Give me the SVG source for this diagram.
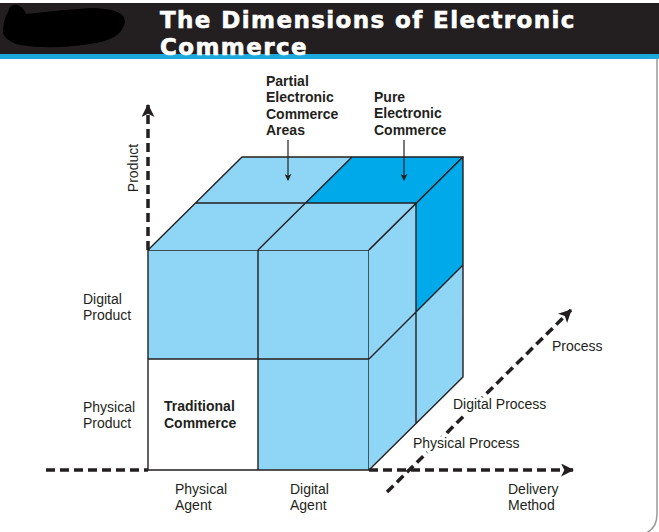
<svg xmlns="http://www.w3.org/2000/svg" width="659" height="532" viewBox="0 0 659 532">
<style>
.lbl{font-family:"Liberation Sans",Arial,sans-serif;font-size:14px;fill:#231f20}
.bold{font-weight:bold}
.title{font-family:"DejaVu Sans","Liberation Sans",Arial,sans-serif;font-size:23px;font-weight:bold;fill:#fff;stroke:#fff;stroke-width:0.6;letter-spacing:1.4px}
.lt{fill:#8fd6f6}
.dk{fill:#00aaea}
.edge{fill:none;stroke:#231f20;stroke-width:1.4;stroke-linejoin:round}
.dash{fill:none;stroke:#231f20;stroke-width:3.5;stroke-dasharray:9 5}
.thin{fill:none;stroke:#231f20;stroke-width:1.2}
.halo{stroke:#fff;stroke-width:7;paint-order:stroke;stroke-linejoin:round}
</style>
<defs>
<marker id="big" viewBox="0 0 12 12" refX="11" refY="6" markerWidth="13" markerHeight="13" markerUnits="userSpaceOnUse" orient="auto">
<path d="M0,0 L12,6 L0,12 L3,6 Z" fill="#231f20"/>
</marker>
<marker id="small" viewBox="0 0 8 8" refX="7" refY="4" markerWidth="7" markerHeight="7" markerUnits="userSpaceOnUse" orient="auto">
<path d="M0,0 L8,4 L0,8 L2,4 Z" fill="#231f20"/>
</marker>
</defs>
<rect width="659" height="532" fill="#fff"/>
<g id="header">
<rect x="0" y="3" width="659" height="52" fill="#231f20"/>
<rect x="0" y="54" width="659" height="5" fill="#1ca7dd"/>
<path d="M8,12 Q10,3 18,5 Q24,8 26,14 Q60,10 90,8 Q125,8 125,22 Q122,40 90,44 Q50,50 20,45 Q2,40 3,30 Q4,18 8,12 Z" fill="#000"/>
<text class="title" x="160" y="28">The Dimensions of Electronic</text>
<text class="title" x="160" y="55">Commerce</text>
</g>
<path d="M657,58 V514 Q657,528 646,533" fill="none" stroke="#9a9a9a" stroke-width="1.5"/>
<g id="cube">
<g id="front-face">
<rect class="lt" x="148" y="250" width="221" height="220"/>
<rect x="148" y="359" width="110" height="111" fill="#fff"/>
<path class="edge" d="M148,250 H369 V470 H148 Z M258,250 V470 M148,359 H369"/>
</g>
<g id="top-face">
<path class="lt" d="M148,250 L242,157 H463 L369,250 Z"/>
<path class="dk" d="M305,203 L352,157 H463 L416,203 Z"/>
<path class="edge" d="M148,250 L242,157 H463 L369,250 M258,250 L352,157 M195,203 H416"/>
</g>
<g id="right-face">
<path class="lt" d="M369,250 L463,157 V377 L369,470 Z"/>
<path class="dk" d="M416,203 L463,157 V265 L416,312 Z"/>
<path class="edge" d="M369,250 L463,157 V377 L369,470 M416,203 V423 M369,359 L463,265"/>
</g>
</g>
<g id="connectors">
<line class="dash" x1="148" y1="250" x2="148" y2="105" marker-end="url(#big)"/>
<line class="dash" x1="46" y1="470" x2="148" y2="470"/>
<line class="dash" x1="369" y1="470" x2="573" y2="470" marker-end="url(#big)"/>
<line class="dash" x1="387" y1="492" x2="571" y2="310" marker-end="url(#big)"/>
<line class="thin" x1="288" y1="140" x2="288" y2="180" marker-end="url(#small)"/>
<line class="thin" x1="404" y1="140" x2="404" y2="180" marker-end="url(#small)"/>
</g>
<g id="traditional-commerce">
<text class="lbl bold" x="164" y="411">Traditional</text>
<text class="lbl bold" x="164" y="428">Commerce</text>
</g>
<g id="partial-ec">
<text class="lbl bold" x="266" y="86">Partial</text>
<text class="lbl bold" x="266" y="102">Electronic</text>
<text class="lbl bold" x="266" y="119">Commerce</text>
<text class="lbl bold" x="266" y="135">Areas</text>
</g>
<g id="pure-ec">
<text class="lbl bold" x="374" y="102">Pure</text>
<text class="lbl bold" x="374" y="118">Electronic</text>
<text class="lbl bold" x="374" y="135">Commerce</text>
</g>
<g id="axis-labels">
<text class="lbl" transform="translate(138,168) rotate(-90)" text-anchor="middle">Product</text>
<text class="lbl" x="83" y="304">Digital</text>
<text class="lbl" x="83" y="320">Product</text>
<text class="lbl" x="83" y="412">Physical</text>
<text class="lbl" x="83" y="428">Product</text>
<text class="lbl" x="175" y="494">Physical</text>
<text class="lbl" x="175" y="510">Agent</text>
<text class="lbl" x="290" y="494">Digital</text>
<text class="lbl" x="290" y="510">Agent</text>
<text class="lbl" x="552" y="351">Process</text>
<text class="lbl halo" x="453" y="409">Digital Process</text>
<text class="lbl halo" x="413" y="448">Physical Process</text>
<text class="lbl" x="508" y="494">Delivery</text>
<text class="lbl" x="508" y="510">Method</text>
</g>
</svg>
